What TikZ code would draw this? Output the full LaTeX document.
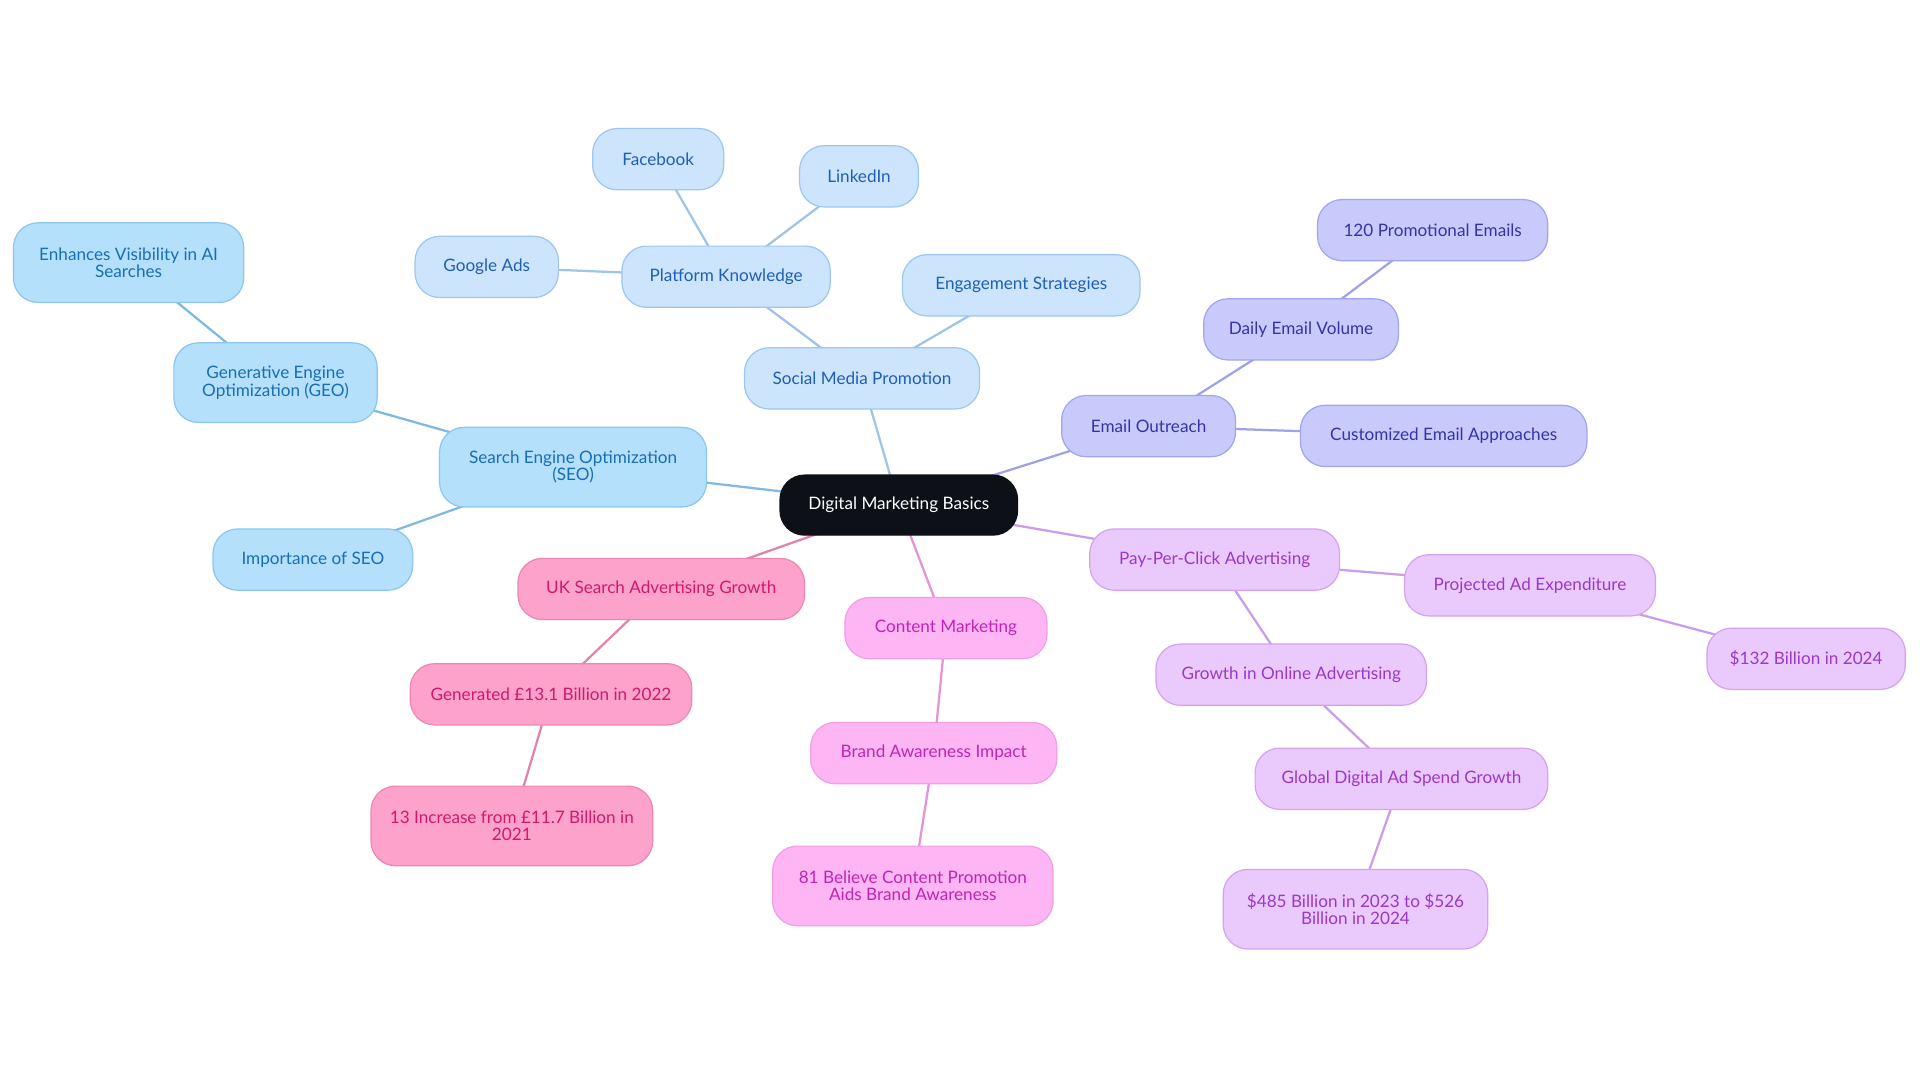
\documentclass[tikz,border=0pt]{standalone}
\usepackage{fontspec}
\setmainfont{Lato}
\usetikzlibrary{backgrounds}
\definecolor{cfill}{HTML}{0D1117}
\definecolor{seofill}{HTML}{B4E0FC}
\definecolor{seodraw}{HTML}{8CC6EE}
\definecolor{seotext}{HTML}{1A6EB4}
\definecolor{seoedge}{HTML}{7DB9E2}
\definecolor{smfill}{HTML}{CDE5FC}
\definecolor{smdraw}{HTML}{9EC6EE}
\definecolor{smtext}{HTML}{1F5FB6}
\definecolor{smedge}{HTML}{9FC4E8}
\definecolor{emfill}{HTML}{C8CAFC}
\definecolor{emdraw}{HTML}{A2A4F0}
\definecolor{emtext}{HTML}{3434A8}
\definecolor{emedge}{HTML}{A0A2E8}
\definecolor{ppfill}{HTML}{EACAFC}
\definecolor{ppdraw}{HTML}{D3A2F0}
\definecolor{pptext}{HTML}{9A38C8}
\definecolor{ppedge}{HTML}{C99DE8}
\definecolor{ukfill}{HTML}{FDA3CB}
\definecolor{ukdraw}{HTML}{EE86B4}
\definecolor{uktext}{HTML}{D0186E}
\definecolor{ukedge}{HTML}{E283AE}
\definecolor{cmfill}{HTML}{FDB6F3}
\definecolor{cmdraw}{HTML}{EFA0E2}
\definecolor{cmtext}{HTML}{C024B4}
\definecolor{cmedge}{HTML}{E394D6}
\begin{document}
\begin{tikzpicture}[x=0.6pt,y=-0.6pt,
  ndbox/.style={rounded corners=12pt, draw, line width=0.6pt, inner sep=0pt,
    font=\fontsize{8.4}{8.6}\selectfont, align=center},
  sz/.style 2 args={minimum width=#1*0.6pt, minimum height=#2*0.6pt},
  brcentral/.style={ndbox, fill=cfill, draw=cfill, text=white},
  brseo/.style={ndbox, fill=seofill, draw=seodraw, text=seotext},
  brsm/.style={ndbox, fill=smfill, draw=smdraw, text=smtext},
  brem/.style={ndbox, fill=emfill, draw=emdraw, text=emtext},
  brpp/.style={ndbox, fill=ppfill, draw=ppdraw, text=pptext},
  bruk/.style={ndbox, fill=ukfill, draw=ukdraw, text=uktext},
  brcm/.style={ndbox, fill=cmfill, draw=cmdraw, text=cmtext},
  edgeline/.style={line width=1.1pt}]
\useasboundingbox (0,0) rectangle (1568,884);

\node[brcentral, sz={194}{49}] (c) at (734,412.5) {Digital Marketing Basics};

\node[brseo, sz={218}{65}] (seo) at (468,381.5) {Search Engine Optimization\\(SEO)};
\node[brseo, sz={166}{65}] (geo) at (225,312.5) {Generative Engine\\Optimization (GEO)};
\node[brseo, sz={188}{65}] (vis) at (105,214.5) {Enhances Visibility in AI\\Searches};
\node[brseo, sz={163}{50}] (imp) at (255.5,457) {Importance of SEO};

\node[brsm, sz={192}{50}] (smp) at (704,309) {Social Media Promotion};
\node[brsm, sz={170}{50}] (pk) at (593,226) {Platform Knowledge};
\node[brsm, sz={194}{50}] (eng) at (834,233) {Engagement Strategies};
\node[brsm, sz={107}{50}] (fb) at (537.5,130) {Facebook};
\node[brsm, sz={97}{50}] (li) at (701.5,144) {LinkedIn};
\node[brsm, sz={117}{50}] (ga) at (397.5,218) {Google Ads};

\node[brem, sz={142}{50}] (eo) at (938,348) {Email Outreach};
\node[brem, sz={159}{50}] (dev) at (1062.5,269) {Daily Email Volume};
\node[brem, sz={188}{50}] (pe) at (1170,188) {120 Promotional Emails};
\node[brem, sz={234}{50}] (cea) at (1179,356) {Customized Email Approaches};

\node[brpp, sz={204}{50}] (ppc) at (992,457) {Pay-Per-Click Advertising};
\node[brpp, sz={205}{50}] (pae) at (1249.5,478) {Projected Ad Expenditure};
\node[brpp, sz={162}{50}] (b132) at (1475,538) {\$132 Billion in 2024};
\node[brpp, sz={221}{50}] (goa) at (1054.5,551) {Growth in Online Advertising};
\node[brpp, sz={239}{50}] (gds) at (1144.5,636) {Global Digital Ad Spend Growth};
\node[brpp, sz={216}{65}] (b485) at (1107,742.5) {\$485 Billion in 2023 to \$526\\Billion in 2024};

\node[bruk, sz={234}{50}] (uksa) at (540,481) {UK Search Advertising Growth};
\node[bruk, sz={230}{50}] (gen) at (450,567) {Generated £13.1 Billion in 2022};
\node[bruk, sz={230}{65}] (inc) at (418,674.5) {13 Increase from £11.7 Billion in\\2021};

\node[brcm, sz={165}{50}] (cmk) at (772.5,513) {Content Marketing};
\node[brcm, sz={201}{50}] (bai) at (762.5,615) {Brand Awareness Impact};
\node[brcm, sz={229}{65}] (b81) at (745.5,723.5) {81 Believe Content Promotion\\Aids Brand Awareness};

\begin{pgfonlayer}{background}
\fill[white] (0,0) rectangle (1568,884);
\draw[edgeline, seoedge] (c.center) -- (seo.center);
\draw[edgeline, seoedge] (seo.center) -- (geo.center);
\draw[edgeline, seoedge] (geo.center) -- (vis.center);
\draw[edgeline, seoedge] (seo.center) -- (imp.center);
\draw[edgeline, smedge] (c.center) -- (smp.center);
\draw[edgeline, smedge] (smp.center) -- (pk.center);
\draw[edgeline, smedge] (smp.center) -- (eng.center);
\draw[edgeline, smedge] (pk.center) -- (fb.center);
\draw[edgeline, smedge] (pk.center) -- (li.center);
\draw[edgeline, smedge] (pk.center) -- (ga.center);
\draw[edgeline, emedge] (c.center) -- (eo.center);
\draw[edgeline, emedge] (eo.center) -- (dev.center);
\draw[edgeline, emedge] (dev.center) -- (pe.center);
\draw[edgeline, emedge] (eo.center) -- (cea.center);
\draw[edgeline, ppedge] (c.center) -- (ppc.center);
\draw[edgeline, ppedge] (ppc.center) -- (pae.center);
\draw[edgeline, ppedge] (pae.center) -- (b132.center);
\draw[edgeline, ppedge] (ppc.center) -- (goa.center);
\draw[edgeline, ppedge] (goa.center) -- (gds.center);
\draw[edgeline, ppedge] (gds.center) -- (b485.center);
\draw[edgeline, ukedge] (c.center) -- (uksa.center);
\draw[edgeline, ukedge] (uksa.center) -- (gen.center);
\draw[edgeline, ukedge] (gen.center) -- (inc.center);
\draw[edgeline, cmedge] (c.center) -- (cmk.center);
\draw[edgeline, cmedge] (cmk.center) -- (bai.center);
\draw[edgeline, cmedge] (bai.center) -- (b81.center);
\end{pgfonlayer}
\end{tikzpicture}
\end{document}
